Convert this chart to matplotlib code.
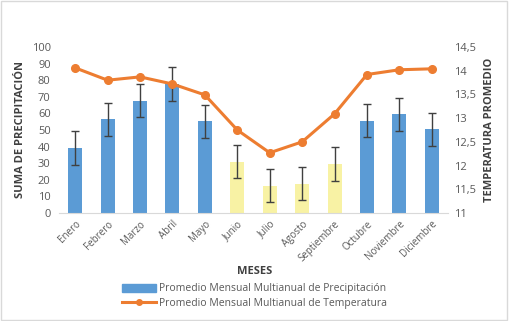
import matplotlib.pyplot as plt
from matplotlib.lines import Line2D
from matplotlib.patches import Patch

meses = ["Enero", "Febrero", "Marzo", "Abril", "Mayo", "Junio", "Julio",
         "Agosto", "Septiembre", "Octubre", "Noviembre", "Diciembre"]
precipitacion = [39.2, 56.4, 67.6, 77.7, 55.2, 30.9, 16.4, 17.6, 29.5, 55.6, 59.4, 50.4]
error_precip = [10] * 12
temperatura = [14.06, 13.80, 13.87, 13.72, 13.49, 12.75, 12.27, 12.50, 13.09, 13.92, 14.02, 14.04]
secos = ["Junio", "Julio", "Agosto", "Septiembre"]

azul = "#5B9BD5"
amarillo = "#F8F2A4"
naranja = "#ED7D31"
gris_txt = "#595959"

plt.rcParams['font.family'] = ['Open Sans', 'DejaVu Sans']

fig = plt.figure(figsize=(5.09, 3.21), dpi=100)
ax = fig.add_axes([59 / 509, 1 - 213 / 321, (448 - 59) / 509, (213 - 47) / 321])
ax2 = ax.twinx()

colores = [amarillo if m in secos else azul for m in meses]
x = range(len(meses))
ax.bar(x, precipitacion, width=0.43, color=colores, zorder=2)
ax.errorbar(x, precipitacion, yerr=error_precip, fmt="none", ecolor="#404040",
            elinewidth=1, capsize=3, capthick=1, zorder=3)

ax2.plot(x, temperatura, color=naranja, lw=2.2, marker="o", ms=5.5, zorder=4)

ax.set_ylim(0, 100)
ax.set_yticks(range(0, 101, 10))
ax2.set_ylim(11, 14.5)
ax2.set_yticks([11, 11.5, 12, 12.5, 13, 13.5, 14, 14.5])
ax2.set_yticklabels(["11", "11,5", "12", "12,5", "13", "13,5", "14", "14,5"])
ax.set_xlim(-0.5, 11.5)
ax.set_xticks(list(x))
ax.set_xticklabels(meses, rotation=45, ha="right", rotation_mode="anchor")

for a in (ax, ax2):
    for s in a.spines.values():
        s.set_visible(False)
    a.tick_params(length=0, labelsize=8, colors=gris_txt)
ax.spines["bottom"].set_visible(True)
ax.spines["bottom"].set_color("#D9D9D9")
ax.tick_params(axis="x", labelsize=7, pad=4)
ax.tick_params(axis="y", pad=6)
ax2.tick_params(axis="y", pad=4)

ax.set_ylabel("SUMA DE PRECIPITACIÓN", fontsize=8, fontweight="bold", color="#404040", labelpad=4)
ax2.set_ylabel("TEMPERATURA PROMEDIO", fontsize=8, fontweight="bold", color="#404040", labelpad=6)
fig.text(0.5, 1 - 272 / 321, "MESES", ha="center", va="center", fontsize=8,
         fontweight="bold", color="#404040")

handles = [Patch(color=azul),
           Line2D([0], [0], color=naranja, lw=2.2, marker="o", ms=4)]
fig.legend(handles, ["Promedio Mensual Multianual de Precipitación",
                     "Promedio Mensual Multianual de Temperatura"],
           loc="center", bbox_to_anchor=(0.5, 1 - 296 / 321), frameon=False,
           fontsize=7.5, labelcolor=gris_txt, handlelength=3.2, handleheight=0.8,
           handletextpad=0.3, labelspacing=0.35)

fig.patches.append(plt.Rectangle((0.002, 0.003), 0.995, 0.993, transform=fig.transFigure,
                                 fill=False, edgecolor="#D9D9D9", lw=1))

fig.savefig("out.png", dpi=100)
